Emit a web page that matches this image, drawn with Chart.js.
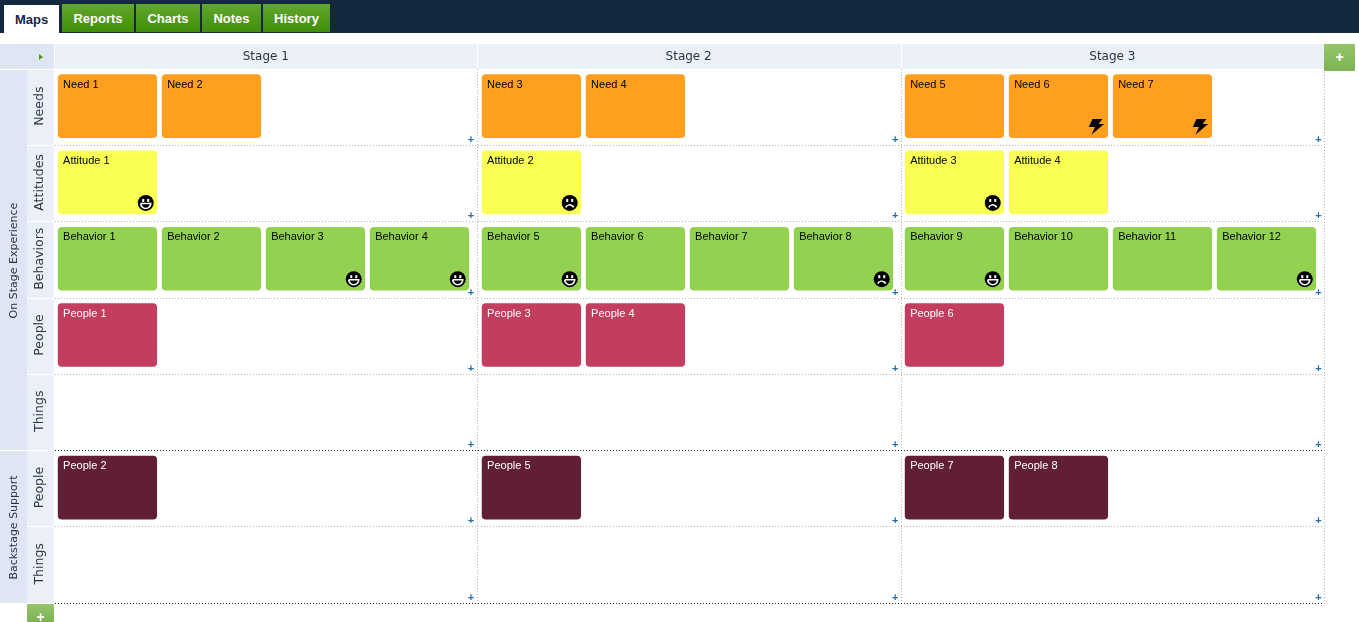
<!DOCTYPE html>
<html>
<head>
<meta charset="utf-8">
<title>Maps</title>
<script src="https://cdn.jsdelivr.net/npm/chart.js@4"></script>
<style>
    html, body { margin: 0; padding: 0; background: #fff; overflow: hidden; }
    #page { position: relative; width: 1359px; height: 622px; }
    #map { position: absolute; left: 0; top: 0; }
    #nav { position: absolute; left: 0; top: 0; width: 1359px; height: 33px; background: #14283f; }
    .tab {
        position: absolute; top: 4px; height: 28px; line-height: 29px; text-align: center;
        font: bold 13px "Liberation Sans", Arial, sans-serif; line-height: 29px; color: #fff;
        background: linear-gradient(#62a72d, #3f8f08);
    }
    .tab.active { top: 5px; height: 28px; background: #fff; color: #14283f; }
    .add {
        position: absolute; text-align: center; color: #fff;
        font: bold 14px "Liberation Sans", Arial, sans-serif;
        background: linear-gradient(#95c46c, #7cb450); border-radius: 1px;
    }
</style>
</head>
<body>
<div id="page">
    <canvas id="map" width="1359" height="622"></canvas>
    <div id="nav">
        <div class="tab active" style="left:4px;width:55px">Maps</div>
        <div class="tab" style="left:62px;width:72px">Reports</div>
        <div class="tab" style="left:136px;width:64px">Charts</div>
        <div class="tab" style="left:202px;width:59px">Notes</div>
        <div class="tab" style="left:263px;width:67px">History</div>
    </div>
    <div class="add" style="left:1324px;top:44px;width:31px;height:27px;line-height:27px">+</div>
    <div class="add" style="left:27px;top:604px;width:27px;height:18px;line-height:27px">+</div>
</div>
<script>
const stages = ['Stage 1', 'Stage 2', 'Stage 3'];
const rowIds = ['needs', 'attitudes', 'behaviors', 'onPeople', 'onThings', 'backPeople', 'backThings'];
const rowNames = ['Needs', 'Attitudes', 'Behaviors', 'People', 'Things', 'People', 'Things'];
const groupNames = ['On Stage Experience', 'Backstage Support'];
const groupRows = [[0, 4], [5, 6]];

const cardLabels = [
    'Need 1', 'Need 2', 'Need 3', 'Need 4', 'Need 5', 'Need 6', 'Need 7',
    'Attitude 1', 'Attitude 2', 'Attitude 3', 'Attitude 4',
    'Behavior 1', 'Behavior 2', 'Behavior 3', 'Behavior 4', 'Behavior 5', 'Behavior 6',
    'Behavior 7', 'Behavior 8', 'Behavior 9', 'Behavior 10', 'Behavior 11', 'Behavior 12',
    'People 1', 'People 3', 'People 4', 'People 6',
    'People 2', 'People 5', 'People 7', 'People 8'
];
const cardRows = [
    'needs', 'needs', 'needs', 'needs', 'needs', 'needs', 'needs',
    'attitudes', 'attitudes', 'attitudes', 'attitudes',
    'behaviors', 'behaviors', 'behaviors', 'behaviors', 'behaviors', 'behaviors',
    'behaviors', 'behaviors', 'behaviors', 'behaviors', 'behaviors', 'behaviors',
    'onPeople', 'onPeople', 'onPeople', 'onPeople',
    'backPeople', 'backPeople', 'backPeople', 'backPeople'
];
const cardStages = [
    0, 0, 1, 1, 2, 2, 2,
    0, 1, 2, 2,
    0, 0, 0, 0, 1, 1, 1, 1, 2, 2, 2, 2,
    0, 1, 1, 2,
    0, 1, 2, 2
];
const cardSlots = [
    0, 1, 0, 1, 0, 1, 2,
    0, 0, 0, 1,
    0, 1, 2, 3, 0, 1, 2, 3, 0, 1, 2, 3,
    0, 0, 1, 0,
    0, 0, 0, 1
];
const cardMarks = [
    '', '', '', '', '', 'bolt', 'bolt',
    'happy', 'sad', 'sad', '',
    '', '', 'happy', 'happy', 'happy', '', '', 'sad', 'happy', '', '', 'happy',
    '', '', '', '',
    '', '', '', ''
];

const rowColors = {
    needs: '#ff9f1f', attitudes: '#f9ff54', behaviors: '#93d250',
    onPeople: '#c33d5e', backPeople: '#601f32'
};
const darkRows = ['onPeople', 'backPeople'];

// x scale is in card slots, one stage is a bit over 4 slots wide
const stageEdges = [0, 4.053, 8.13, 12.2];
const stageOrigins = [0.03, 4.106, 8.173];
const cardWidth = 0.948;

const cards = cardLabels.map((label, i) => {
    const left = stageOrigins[cardStages[i]] + cardSlots[i];
    return { x: [left, left + cardWidth], y: cardRows[i], label: label, mark: cardMarks[i] };
});

function rowEdge(yScale, i) {
    return Math.round(yScale.getPixelForValue(i - 0.5) + 0.7) + 0.5;
}

function drawFace(ctx, cx, cy, happy) {
    ctx.fillStyle = '#000';
    ctx.beginPath();
    ctx.arc(cx, cy, 8, 0, Math.PI * 2);
    ctx.fill();
    ctx.fillStyle = '#fff';
    ctx.fillRect(cx - 3.5, cy - 4, 2, 3);
    ctx.fillRect(cx + 1.5, cy - 4, 2, 3);
    ctx.strokeStyle = '#fff';
    ctx.lineWidth = 1.6;
    ctx.beginPath();
    if (happy) {
        ctx.moveTo(cx - 5, cy + 0.5);
        ctx.lineTo(cx + 5, cy + 0.5);
        ctx.arc(cx, cy + 0.5, 5, 0, Math.PI);
    } else {
        ctx.arc(cx, cy + 6.5, 4.5, Math.PI * 1.15, Math.PI * 1.85);
    }
    ctx.stroke();
}

function drawBolt(ctx, r, b) {
    const pts = [[-15.3, -18.7], [-5.3, -18.7], [-9.3, -13.7], [-3.7, -13.7], [-16.3, -3], [-12.7, -10.7], [-19, -10.7]];
    ctx.fillStyle = '#000';
    ctx.beginPath();
    pts.forEach(p => ctx.lineTo(r + p[0], b + p[1]));
    ctx.closePath();
    ctx.fill();
}

// header bands and side columns, behind the axis labels
const bandsPlugin = {
    id: 'bands',
    beforeDraw(chart) {
        const { ctx, chartArea, scales } = chart;
        const x = scales.x, y = scales.y;
        ctx.save();
        ctx.fillStyle = '#eaeff8';
        ctx.fillRect(x.left, 44, x.right - x.left, 25);
        ctx.fillStyle = '#dfe6f3';
        ctx.fillRect(0, 44, 54, 25);
        ctx.fillStyle = '#fff';
        stageEdges.slice(1, 3).forEach(v => ctx.fillRect(Math.round(x.getPixelForValue(v)), 44, 1, 25));

        rowNames.forEach((name, i) => {
            const top = i === 0 ? 70 : Math.ceil(rowEdge(y, i)) ;
            const bottom = Math.floor(rowEdge(y, i + 1));
            ctx.fillStyle = '#eaeff8';
            ctx.fillRect(27, top, 27, bottom - top);
        });
        groupNames.forEach((name, g) => {
            const top = g === 0 ? 70 : Math.ceil(rowEdge(y, groupRows[g][0]));
            const bottom = Math.floor(rowEdge(y, groupRows[g][1] + 1));
            ctx.fillStyle = '#dfe6f3';
            ctx.fillRect(0, top, 27, bottom - top);
            ctx.save();
            ctx.translate(14, (top + bottom) / 2 + (g === 0 ? 0.5 : 0.5));
            ctx.rotate(-Math.PI / 2);
            ctx.fillStyle = '#2b3440';
            ctx.font = '11px "DejaVu Sans"';
            ctx.textAlign = 'center';
            ctx.textBaseline = 'middle';
            ctx.fillText(name, 0, 0);
            ctx.restore();
        });

        // little arrow in the corner cell
        ctx.fillStyle = '#4d9a1c';
        ctx.beginPath();
        ctx.moveTo(39, 54);
        ctx.lineTo(43, 57);
        ctx.lineTo(39, 60);
        ctx.closePath();
        ctx.fill();
        ctx.restore();
    },
    beforeDatasetsDraw(chart) {
        const { ctx, scales } = chart;
        const x = scales.x, y = scales.y;
        ctx.save();
        ctx.lineWidth = 1;
        ctx.setLineDash([1, 2]);
        ctx.strokeStyle = '#b5b5b5';
        stageEdges.slice(1).forEach(v => {
            const px = Math.round(x.getPixelForValue(v)) + 0.5;
            ctx.beginPath();
            ctx.moveTo(px, 69);
            ctx.lineTo(px, rowEdge(y, rowIds.length));
            ctx.stroke();
        });
        for (let i = 1; i <= rowIds.length; i++) {
            const py = rowEdge(y, i);
            ctx.strokeStyle = (i === 5 || i === rowIds.length) ? '#222' : '#b5b5b5';
            ctx.beginPath();
            ctx.moveTo(x.left, py);
            ctx.lineTo(x.right, py);
            ctx.stroke();
        }
        ctx.setLineDash([]);

        // add-card plus in the corner of every cell
        ctx.fillStyle = '#1f6fae';
        ctx.font = 'bold 11px "Liberation Sans"';
        ctx.textAlign = 'center';
        ctx.textBaseline = 'middle';
        stageEdges.slice(1).forEach(v => {
            const px = x.getPixelForValue(v);
            for (let i = 1; i <= rowIds.length; i++) {
                ctx.fillText('+', px - 5.5, rowEdge(y, i) - 5.5);
            }
        });
        ctx.restore();
    }
};

// card captions and the face and bolt marks, placed from the bar elements
const cardTextPlugin = {
    id: 'cardText',
    afterDatasetsDraw(chart) {
        const { ctx } = chart;
        const meta = chart.getDatasetMeta(0);
        ctx.save();
        meta.data.forEach((bar, i) => {
            const card = cards[i];
            const p = bar.getProps(['x', 'y', 'base', 'height'], true);
            const left = Math.min(p.x, p.base);
            const right = Math.max(p.x, p.base);
            const top = p.y - p.height / 2;
            const bottom = p.y + p.height / 2;
            ctx.fillStyle = darkRows.includes(card.y) ? '#fff' : '#000';
            ctx.font = '11px "Liberation Sans"';
            ctx.textAlign = 'left';
            ctx.textBaseline = 'middle';
            ctx.fillText(card.label, left + 5, top + 10);
            if (card.mark === 'bolt') {
                drawBolt(ctx, right, bottom);
            } else if (card.mark) {
                drawFace(ctx, right - 11, bottom - 11, card.mark === 'happy');
            }
        });
        ctx.restore();
    }
};

new Chart(document.getElementById('map'), {
    type: 'bar',
    data: {
        labels: rowIds,
        datasets: [{
            data: cards,
            backgroundColor: ctx => ctx.raw ? rowColors[ctx.raw.y] : '#ccc',
            borderRadius: 4,
            borderSkipped: false,
            barThickness: 63
        }]
    },
    options: {
        indexAxis: 'y',
        responsive: false,
        animation: false,
        layout: { padding: { top: 44, right: 35, bottom: 20, left: 0 } },
        plugins: {
            legend: { display: false },
            tooltip: { enabled: false },
            title: { display: false }
        },
        scales: {
            x: {
                type: 'linear',
                position: 'top',
                min: 0,
                max: stageEdges[3],
                grid: { display: false, drawTicks: false },
                border: { display: false },
                afterFit: scale => { scale.height = 24; },
                afterBuildTicks: scale => {
                    scale.ticks = stages.map((s, i) => ({ value: (stageEdges[i] + stageEdges[i + 1]) / 2 }));
                },
                ticks: {
                    autoSkip: false,
                    maxRotation: 0,
                    padding: 4,
                    color: '#2b3440',
                    font: { family: '"DejaVu Sans"', size: 12 },
                    callback: (value, index) => stages[index]
                }
            },
            y: {
                type: 'category',
                grid: { display: false, drawTicks: false },
                border: { display: false },
                afterFit: scale => { scale.width = 55; },
                ticks: {
                    autoSkip: false,
                    minRotation: 90,
                    maxRotation: 90,
                    crossAlign: 'center',
                    padding: -16,
                    color: '#2b3440',
                    font: { family: '"DejaVu Sans"', size: 12.5 },
                    callback: (value, index) => rowNames[index]
                }
            }
        }
    },
    plugins: [bandsPlugin, cardTextPlugin]
});
</script>
</body>
</html>
